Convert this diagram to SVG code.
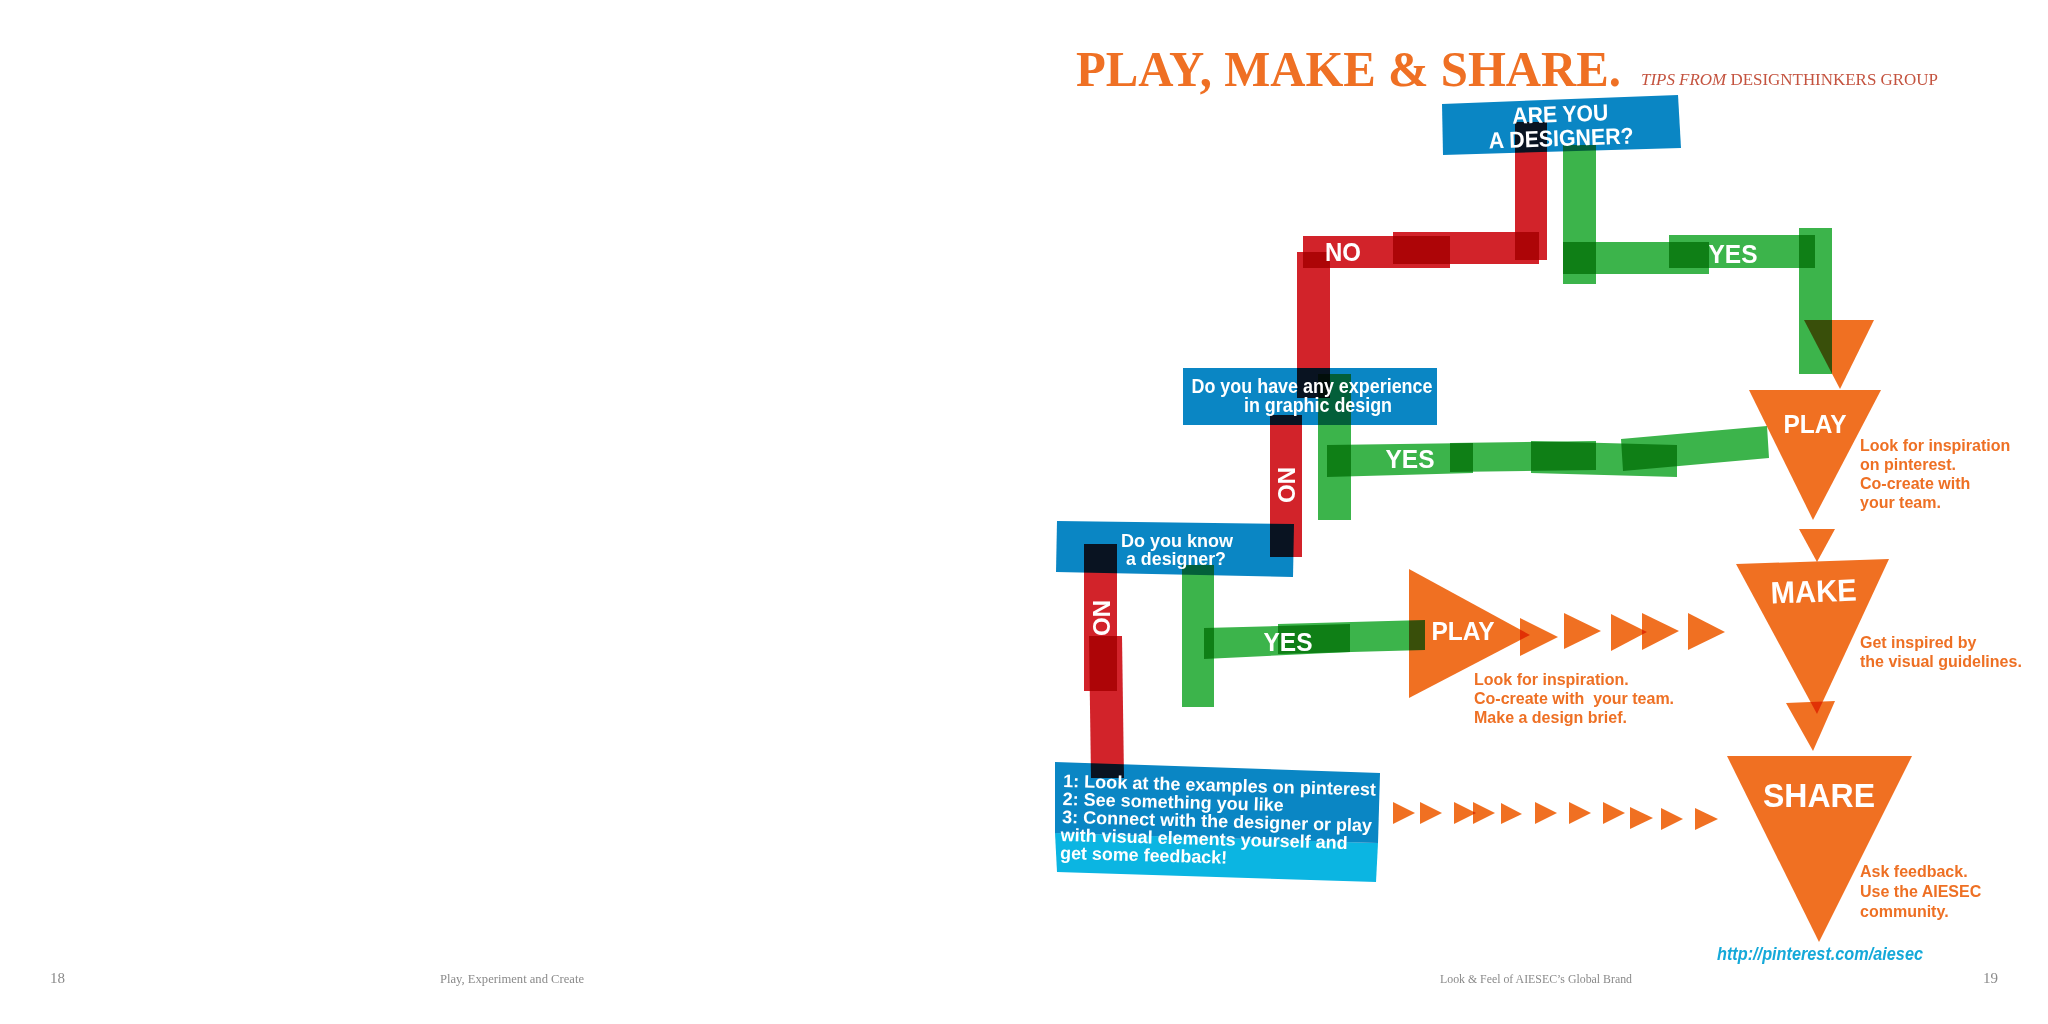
<svg xmlns="http://www.w3.org/2000/svg" width="2048" height="1024" viewBox="0 0 2048 1024">
<style>
.m{mix-blend-mode:multiply}
.red{fill:#d2232a}
.green{fill:#3cb44b}
.orange{fill:#f07022}
.blue{fill:#0a86c4}
.cyan{fill:#0bb5e2}
.lbl{font-family:"Liberation Sans",Arial,sans-serif;font-weight:bold;fill:#ffffff}
.note{font-family:"Liberation Sans",Arial,sans-serif;font-weight:bold;fill:#ee7024;font-size:16px;white-space:pre}
.foot{font-family:"Liberation Serif","Times New Roman",serif;fill:#8a8a8a}
</style>
<rect x="0" y="0" width="2048" height="1024" fill="#ffffff"/>

<g id="header">
<text x="1076" y="86" font-family="Liberation Serif, serif" font-weight="bold" font-size="50" fill="#ef7024" textLength="545" lengthAdjust="spacingAndGlyphs">PLAY, MAKE &amp; SHARE.</text>
<text x="1641" y="85" font-family="Liberation Serif, serif" font-size="17" fill="#c4533f" textLength="297" lengthAdjust="spacingAndGlyphs"><tspan font-style="italic">TIPS FROM</tspan> DESIGNTHINKERS GROUP</text>
</g>

<g id="connectors">
<!-- NO path from top question -->
<rect class="m red" x="1515" y="122" width="32" height="138"/>
<rect class="m red" x="1393" y="232" width="146" height="32"/>
<rect class="m red" x="1303" y="236" width="147" height="32"/>
<rect class="m red" x="1297" y="252" width="33" height="146"/>
<text class="lbl" x="1343" y="261" font-size="25" text-anchor="middle" textLength="36" lengthAdjust="spacingAndGlyphs">NO</text>
<!-- YES path from top question -->
<rect class="m green" x="1563" y="145" width="33" height="139"/>
<rect class="m green" x="1563" y="242" width="146" height="32"/>
<rect class="m green" x="1669" y="235" width="146" height="33"/>
<rect class="m green" x="1799" y="228" width="33" height="146"/>
<text class="lbl" x="1733" y="263" font-size="25" text-anchor="middle" textLength="49" lengthAdjust="spacingAndGlyphs">YES</text>
<!-- experience: NO -->
<rect class="m red" x="1270" y="415" width="32" height="142"/>
<text class="lbl" x="1286" y="485" font-size="24" text-anchor="middle" dominant-baseline="central" transform="rotate(90 1286 485)">NO</text>
<!-- experience: YES -->
<rect class="m green" x="1318" y="374" width="33" height="146"/>
<polygon class="m green" points="1327,445 1473,443 1473,473 1327,477"/>
<polygon class="m green" points="1450,443 1596,441 1596,470 1450,472"/>
<polygon class="m green" points="1531,441 1677,445 1677,477 1531,473"/>
<polygon class="m green" points="1621,439 1767,426 1769,458 1623,471"/>
<text class="lbl" x="1410" y="468" font-size="25" text-anchor="middle" textLength="49" lengthAdjust="spacingAndGlyphs">YES</text>
<!-- know: NO -->
<rect class="m red" x="1084" y="544" width="33" height="147"/>
<polygon class="m red" points="1089,636 1122,636 1124,778 1091,778"/>
<text class="lbl" x="1101" y="618" font-size="24" text-anchor="middle" dominant-baseline="central" transform="rotate(90 1101 618)">NO</text>
<!-- know: YES -->
<rect class="m green" x="1182" y="565" width="32" height="142"/>
<polygon class="m green" points="1204,628 1350,624 1350,652 1204,659"/>
<polygon class="m green" points="1278,624 1425,620 1425,650 1278,654"/>
<text class="lbl" x="1288" y="651" font-size="25" text-anchor="middle" textLength="49" lengthAdjust="spacingAndGlyphs">YES</text>
<!-- arrow chevrons PLAY -> MAKE -->
<polygon class="m orange" points="1520,618 1558,637 1520,656"/>
<polygon class="m orange" points="1564,613 1601,631 1564,649"/>
<polygon class="m orange" points="1611,614 1647,632 1611,651"/>
<polygon class="m orange" points="1642,613 1679,631 1642,650"/>
<polygon class="m orange" points="1688,613 1725,632 1688,650"/>
<!-- arrow chevrons list -> SHARE -->
<polygon class="m orange" points="1393,802 1415,813 1393,824"/>
<polygon class="m orange" points="1420,802 1442,813 1420,824"/>
<polygon class="m orange" points="1454,802 1476,813 1454,824"/>
<polygon class="m orange" points="1473,802 1495,813 1473,824"/>
<polygon class="m orange" points="1501,803 1522,814 1501,824"/>
<polygon class="m orange" points="1535,802 1557,813 1535,824"/>
<polygon class="m orange" points="1569,802 1591,813 1569,824"/>
<polygon class="m orange" points="1603,802 1625,813 1603,824"/>
<polygon class="m orange" points="1630,807 1653,818 1630,829"/>
<polygon class="m orange" points="1661,808 1683,819 1661,830"/>
<polygon class="m orange" points="1695,808 1718,819 1695,830"/>
<!-- arrow triangles down the right column -->
<polygon class="m orange" points="1804,320 1874,320 1840,389"/>
<polygon class="m orange" points="1799,529 1835,529 1817,562"/>
<polygon class="m orange" points="1786,703 1835,701 1813,751"/>
</g>

<g id="node-designer">
<polygon class="m blue" points="1442,104 1678,95 1681,148 1443,155"/>
<g transform="rotate(-2 1561 134)">
<text class="lbl" x="1561" y="122" font-size="23" text-anchor="middle" textLength="96" lengthAdjust="spacingAndGlyphs">ARE YOU</text>
<text class="lbl" x="1561" y="146" font-size="23" text-anchor="middle" textLength="145" lengthAdjust="spacingAndGlyphs">A DESIGNER?</text>
</g>
</g>

<g id="node-experience">
<rect class="m blue" x="1183" y="368" width="254" height="57"/>
<text class="lbl" x="1312" y="393" font-size="20" text-anchor="middle" textLength="241" lengthAdjust="spacingAndGlyphs">Do you have any experience</text>
<text class="lbl" x="1318" y="412" font-size="20" text-anchor="middle" textLength="148" lengthAdjust="spacingAndGlyphs">in graphic design</text>
</g>

<g id="node-know">
<polygon class="m blue" points="1057,521 1294,524 1293,577 1056,572"/>
<text class="lbl" x="1177" y="547" font-size="19" text-anchor="middle" textLength="112" lengthAdjust="spacingAndGlyphs">Do you know</text>
<text class="lbl" x="1176" y="565" font-size="19" text-anchor="middle" textLength="100" lengthAdjust="spacingAndGlyphs">a designer?</text>
</g>

<g id="node-steps">
<polygon class="m blue" points="1055,762 1380,773 1378,843 1055,833"/>
<polygon class="m cyan" points="1055,833 1378,843 1376,882 1057,872"/>
<g transform="rotate(1.6 1063 787)">
<text class="lbl" x="1063" y="787" font-size="18" textLength="313" lengthAdjust="spacingAndGlyphs">1: Look at the examples on pinterest</text>
<text class="lbl" x="1063" y="805" font-size="18" textLength="221" lengthAdjust="spacingAndGlyphs">2: See something you like</text>
<text class="lbl" x="1063" y="823" font-size="18" textLength="310" lengthAdjust="spacingAndGlyphs">3: Connect with the designer or play</text>
<text class="lbl" x="1062" y="841" font-size="18" textLength="287" lengthAdjust="spacingAndGlyphs">with visual elements yourself and</text>
<text class="lbl" x="1062" y="859" font-size="18" textLength="167" lengthAdjust="spacingAndGlyphs">get some feedback!</text>
</g>
</g>

<g id="node-play-side">
<polygon class="m orange" points="1409,569 1530,635 1409,698"/>
<text class="lbl" x="1463" y="640" font-size="25" text-anchor="middle" textLength="63" lengthAdjust="spacingAndGlyphs">PLAY</text>
<text class="note" x="1474" y="685">Look for inspiration.</text>
<text class="note" x="1474" y="704" xml:space="preserve">Co-create with  your team.</text>
<text class="note" x="1474" y="723">Make a design brief.</text>
</g>

<g id="node-play">
<polygon class="m orange" points="1749,390 1881,390 1813,520"/>
<text class="lbl" x="1815" y="433" font-size="25" text-anchor="middle" textLength="63" lengthAdjust="spacingAndGlyphs">PLAY</text>
<text class="note" x="1860" y="451">Look for inspiration</text>
<text class="note" x="1860" y="470">on pinterest.</text>
<text class="note" x="1860" y="489">Co-create with</text>
<text class="note" x="1860" y="508">your team.</text>
</g>

<g id="node-make">
<polygon class="m orange" points="1736,564 1889,559 1817,714"/>
<text class="lbl" x="1814" y="602" font-size="31" text-anchor="middle" transform="rotate(-2 1814 602)" textLength="86" lengthAdjust="spacingAndGlyphs">MAKE</text>
<text class="note" x="1860" y="648">Get inspired by</text>
<text class="note" x="1860" y="667">the visual guidelines.</text>
</g>

<g id="node-share">
<polygon class="m orange" points="1727,756 1912,756 1819,942"/>
<text class="lbl" x="1819" y="807" font-size="33" text-anchor="middle" textLength="112" lengthAdjust="spacingAndGlyphs">SHARE</text>
<text class="note" x="1860" y="877">Ask feedback.</text>
<text class="note" x="1860" y="897">Use the AIESEC</text>
<text class="note" x="1860" y="917">community.</text>
<text x="1717" y="960" font-family="Liberation Sans, Arial, sans-serif" font-weight="bold" font-style="italic" font-size="18" fill="#15a9d9" textLength="206" lengthAdjust="spacingAndGlyphs">http://pinterest.com/aiesec</text>
</g>

<g id="footer">
<text class="foot" x="50" y="983" font-size="15">18</text>
<text class="foot" x="440" y="983" font-size="12" textLength="144" lengthAdjust="spacingAndGlyphs">Play, Experiment and Create</text>
<text class="foot" x="1440" y="983" font-size="12" textLength="192" lengthAdjust="spacingAndGlyphs">Look &amp; Feel of AIESEC’s Global Brand</text>
<text class="foot" x="1983" y="983" font-size="15">19</text>
</g>
</svg>
